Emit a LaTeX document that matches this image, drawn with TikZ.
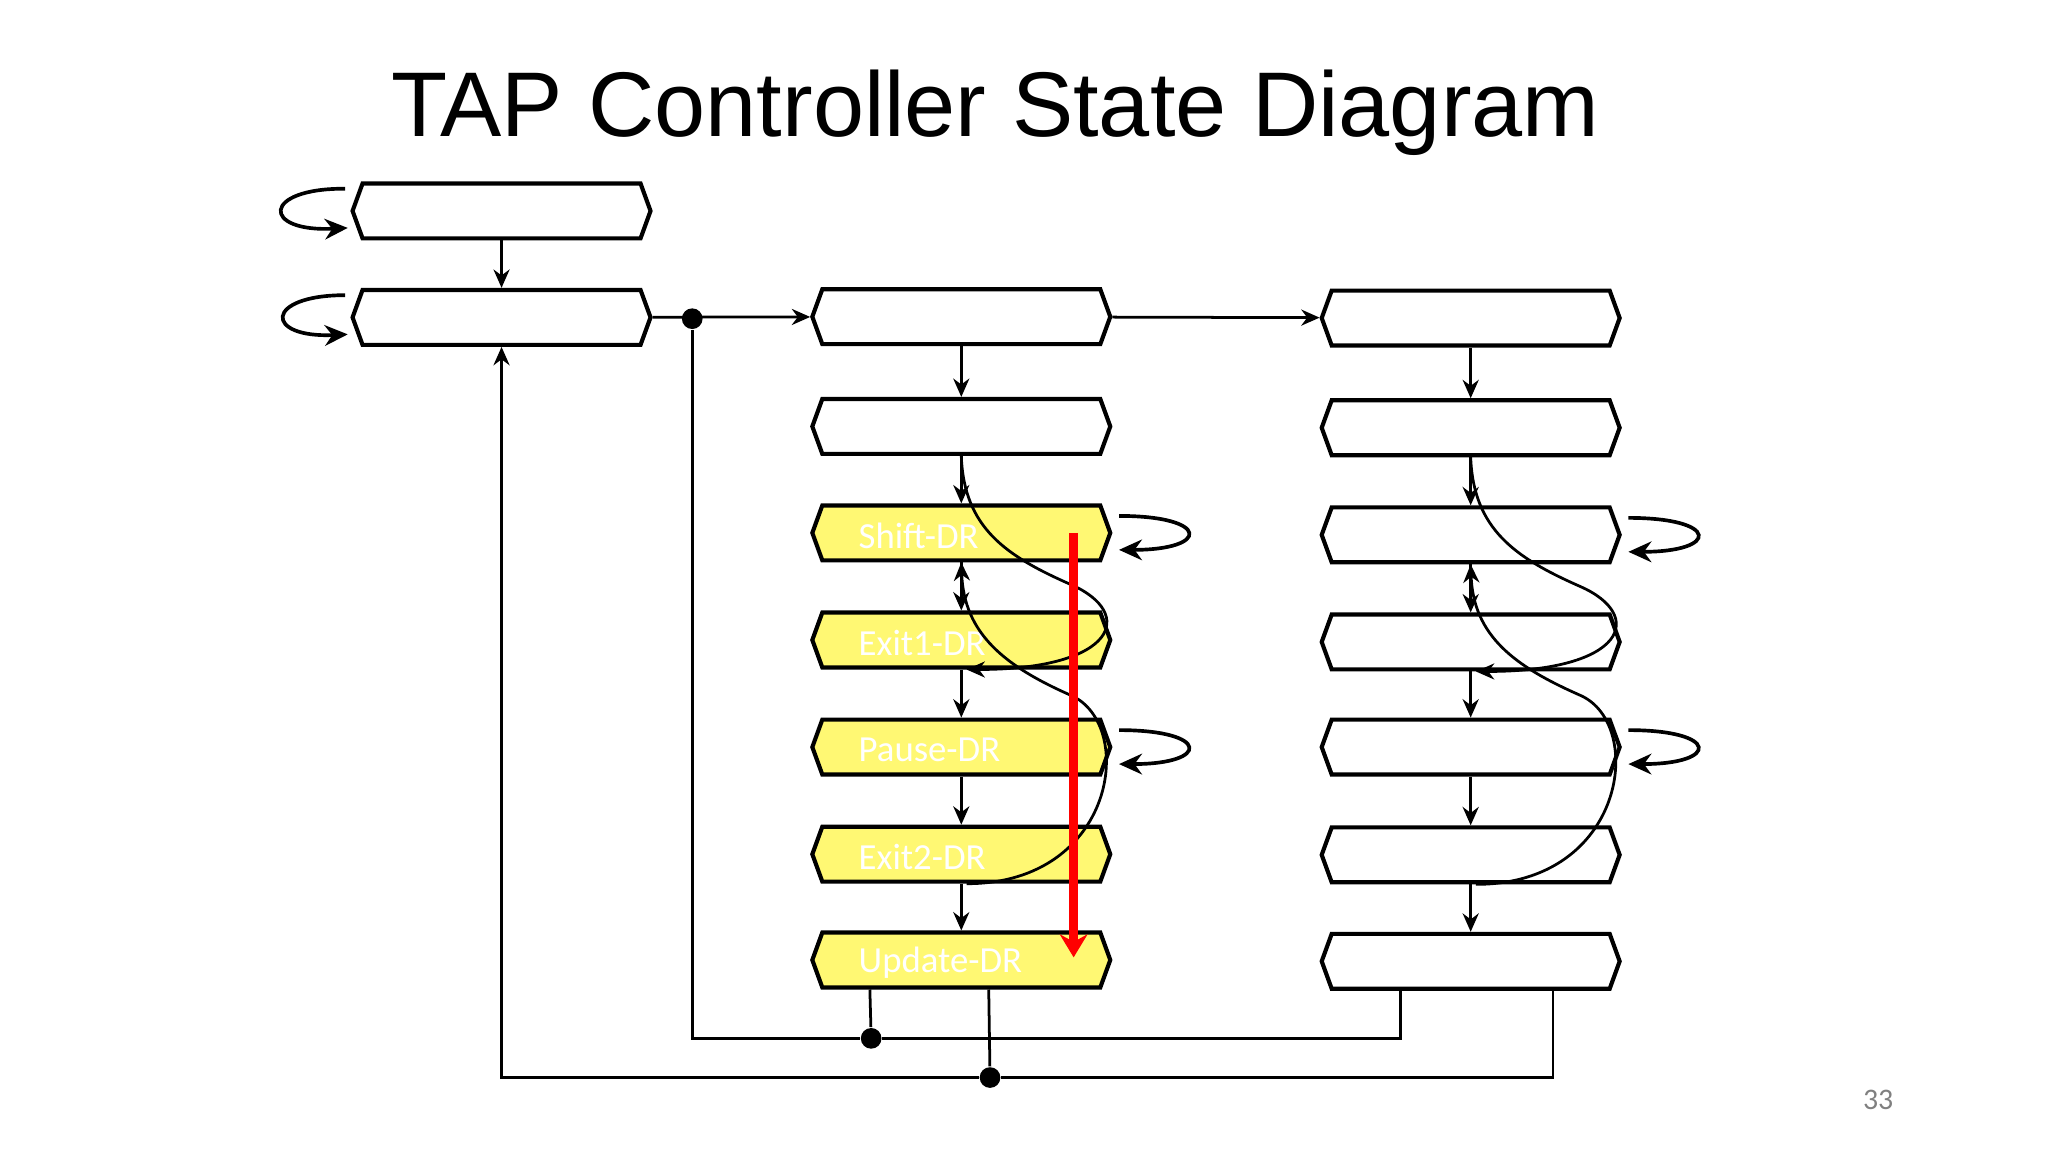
\documentclass[tikz,border=0pt]{standalone}
\usepackage{fontspec}
\setmainfont{Liberation Sans}
\newfontfamily\calib{Carlito}
\usetikzlibrary{shapes.symbols,arrows.meta}
\begin{document}
\begin{tikzpicture}[x=0.01cm,y=-0.01cm,
  st/.style={draw=black,line width=0.9pt,shape=signal,signal to=east and west,signal pointer angle=140,
    minimum width=2.28cm,minimum height=0.42cm,inner sep=0pt,fill=white},
  yst/.style={st,fill=yellow!55},
  lab/.style={anchor=west,text=white,font=\calib\fontsize{8}{9}\selectfont},
  ar/.style={-{Stealth[length=4pt,width=3.5pt]},line width=0.6pt},
  ln/.style={line width=0.6pt},
  lp/.style={-{Stealth[length=5pt,width=4.5pt]},line width=0.8pt},
  dot/.style={circle,fill=black,inner sep=0pt,minimum size=4.5pt}]
\useasboundingbox (0,0) rectangle (1568,882);
\node[font=\fontsize{20}{24}\selectfont] (title) at (762,86) {TAP Controller State Diagram};
\node[text=gray,font=\calib\fontsize{6.5}{8}\selectfont] (pg) at (1438,842) {33};
% left column
\node[st] (l1) at (384,161.5) {};
\node[st] (l2) at (384,243) {};
% middle column
\node[st] (m1) at (736,242.5) {};
\node[st] (m2) at (736,326.5) {};
\node[yst] (m3) at (736,408) {};
\node[yst] (m4) at (736,490) {};
\node[yst] (m5) at (736,572) {};
\node[yst] (m6) at (736,654) {};
\node[yst] (m7) at (736,735) {};
\node[lab] (t3) at (645,410) {Shift-DR};
\node[lab] (t4) at (645,492) {Exit1-DR};
\node[lab] (t5) at (645,574) {Pause-DR};
\node[lab] (t6) at (645,656) {Exit2-DR};
\node[lab] (t7) at (645,737) {Update-DR};
% right column
\node[st] (r1) at (1126,243.5) {};
\node[st] (r2) at (1126,327.5) {};
\node[st] (r3) at (1126,409.5) {};
\node[st] (r4) at (1126,491.5) {};
\node[st] (r5) at (1126,572) {};
\node[st] (r6) at (1126,654.5) {};
\node[st] (r7) at (1126,736) {};
% loops
\draw[lp] ([shift={(-4,-17)}]l1.west) .. controls (200,144) and (200,178) .. ([shift={(-2,13)}]l1.west);
\draw[lp] ([shift={(-4,-17)}]l2.west) .. controls (202,226) and (202,259) .. ([shift={(-2,13)}]l2.west);
\foreach \n in {m3,m5,r3,r5}{
 \draw[lp] ([shift={(5,-13)}]\n.east) .. controls +(70,0) and +(70,0) .. ([shift={(5,13)}]\n.east);}
% straight arrows
\draw[ar] (l1) -- (l2);
\draw[ar] (l2) -- (m1);
\draw[ar] (m1) -- (r1);
\foreach \a/\b in {m1/m2,m2/m3,m3/m4,m4/m5,m5/m6,m6/m7,r1/r2,r2/r3,r3/r4,r4/r5,r5/r6,r6/r7}
  \draw[ar] (\a.south) -- (\b.north);
% curves
\foreach \c in {m,r}{
 \draw[ar] (\c2.south) .. controls +(2,55) and +(-50,-22) .. ([shift={(84,17)}]\c3.south) .. controls +(50,22) and +(115,0) .. ([shift={(4,0)}]\c4.south);
 \draw[ar] ([shift={(4,0)}]\c6.south) .. controls +(115,0) and +(50,22) .. ([shift={(84,-17)}]\c5.north) .. controls +(-50,-22) and +(2,55) .. (\c3.south);
}
% return lines
\node[dot] (d1) at (530,244) {};
\node[dot] (d2) at (667,795) {};
\node[dot] (d3) at (758,825) {};
\draw[ln] (d1) |- (d2);
\draw[ln] ([shift={(-70,0)}]m7.south) -- (d2);
\draw[ln] (d2) -| ([shift={(-54,0)}]r7.south);
\draw[ln] ([shift={(21,0)}]m7.south) -- (d3);
\draw[ln] (d3) -| ([shift={(63,0)}]r7.south);
\draw[ar] (d3) -| (l2.south);
% red arrow
\draw[red,line width=2pt,-{Stealth[length=5pt,width=6pt]}] ([shift={(86,0)}]m3.center) -- ([shift={(86,-2)}]m7.center);
\end{tikzpicture}
\end{document}
